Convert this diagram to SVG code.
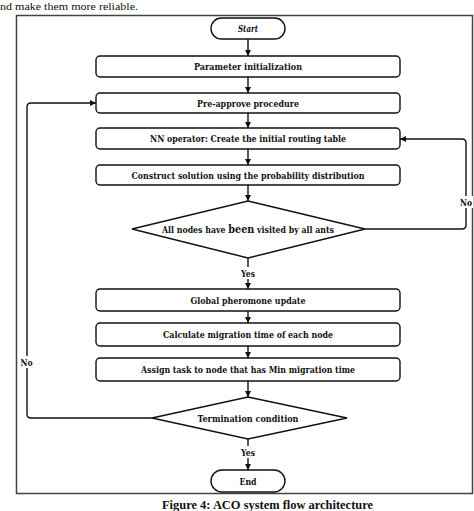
<svg xmlns="http://www.w3.org/2000/svg" width="474" height="511" viewBox="0 0 474 511">
<defs>
<marker id="ah" viewBox="0 0 10 10" refX="10" refY="5" markerWidth="6" markerHeight="6" markerUnits="userSpaceOnUse" orient="auto">
<path d="M0,0 L10,5 L0,10 z" fill="#111"/>
</marker>
</defs>
<style>
.box{fill:#fff;stroke:#111;stroke-width:1.4}
.t{font-family:"DejaVu Serif Condensed","DejaVu Serif",serif;font-weight:bold;font-size:8.5px;fill:#111;text-anchor:middle}
.c{fill:none;stroke:#111;stroke-width:1.4}
.lbl{font-family:"DejaVu Serif Condensed","DejaVu Serif",serif;font-weight:bold;font-size:8.5px;fill:#111;text-anchor:middle}
</style>
<rect width="474" height="511" fill="#fff"/>
<text x="0" y="9.5" font-family="Liberation Serif,Times New Roman,serif" font-size="11" fill="#111" textLength="138" lengthAdjust="spacingAndGlyphs">nd make them more reliable.</text>
<rect x="16.5" y="15.5" width="456" height="478" fill="none" stroke="#444" stroke-width="1.5"/>

<g id="connectors">
<line class="c" x1="248" y1="39" x2="248" y2="56" marker-end="url(#ah)"/>
<line class="c" x1="248" y1="77" x2="248" y2="93" marker-end="url(#ah)"/>
<line class="c" x1="248" y1="113" x2="248" y2="128" marker-end="url(#ah)"/>
<line class="c" x1="248" y1="149" x2="248" y2="165" marker-end="url(#ah)"/>
<line class="c" x1="248" y1="185" x2="248" y2="201" marker-end="url(#ah)"/>
<line class="c" x1="248" y1="258" x2="248" y2="289" marker-end="url(#ah)"/>
<line class="c" x1="248" y1="311" x2="248" y2="323" marker-end="url(#ah)"/>
<line class="c" x1="248" y1="346" x2="248" y2="358" marker-end="url(#ah)"/>
<line class="c" x1="248" y1="381" x2="248" y2="397" marker-end="url(#ah)"/>
<line class="c" x1="248" y1="439" x2="248" y2="470" marker-end="url(#ah)"/>
<path class="c" d="M365,229 H462 Q466,229 466,225 V143 Q466,139 462,139 H400" marker-end="url(#ah)"/>
<path class="c" d="M152,418 H31 Q27,418 27,414 V107 Q27,103 31,103 H96" marker-end="url(#ah)"/>
<rect x="238" y="267" width="20" height="12" fill="#fff"/>
<text class="lbl" x="248" y="277">Yes</text>
<rect x="238" y="446" width="20" height="12" fill="#fff"/>
<text class="lbl" x="248" y="456">Yes</text>
<rect x="458" y="196" width="15" height="12" fill="#fff"/>
<text class="lbl" x="466" y="205.5">No</text>
<rect x="19" y="356" width="15" height="12" fill="#fff"/>
<text class="lbl" x="26.5" y="365.5">No</text>
</g>

<g id="start">
<rect class="box" x="211" y="18" width="74" height="21" rx="10.5"/>
<text class="t" x="248" y="32" font-style="italic" textLength="20" lengthAdjust="spacingAndGlyphs">Start</text>
</g>
<g id="param">
<rect class="box" x="96" y="56" width="304" height="21" rx="4"/>
<text class="t" x="248" y="69.5" textLength="108" lengthAdjust="spacingAndGlyphs">Parameter initialization</text>
</g>
<g id="preapprove">
<rect class="box" x="96" y="93" width="304" height="20" rx="4"/>
<text class="t" x="248" y="106.5" textLength="102" lengthAdjust="spacingAndGlyphs">Pre-approve procedure</text>
</g>
<g id="nn">
<rect class="box" x="96" y="128" width="304" height="21" rx="4"/>
<text class="t" x="248" y="142" textLength="196" lengthAdjust="spacingAndGlyphs">NN operator: Create the initial routing table</text>
</g>
<g id="construct">
<rect class="box" x="96" y="165" width="304" height="20" rx="4"/>
<text class="t" x="248" y="178.5" textLength="233" lengthAdjust="spacingAndGlyphs">Construct solution using the probability distribution</text>
</g>
<g id="decision1">
<polygon class="box" points="248,201 365,229 248,258 132,229"/>
<text class="t" x="248" y="232.5" textLength="172" lengthAdjust="spacingAndGlyphs">All nodes have <tspan font-size="10.5">been</tspan> visited by all ants</text>
</g>
<g id="global">
<rect class="box" x="96" y="289" width="304" height="22" rx="4"/>
<text class="t" x="248" y="303.5" textLength="115" lengthAdjust="spacingAndGlyphs">Global pheromone update</text>
</g>
<g id="calc">
<rect class="box" x="96" y="323" width="304" height="23" rx="4"/>
<text class="t" x="248" y="338" textLength="170" lengthAdjust="spacingAndGlyphs">Calculate migration time of each node</text>
</g>
<g id="assign">
<rect class="box" x="96" y="358" width="304" height="23" rx="4"/>
<text class="t" x="248" y="373" textLength="214" lengthAdjust="spacingAndGlyphs">Assign task to node that has Min migration time</text>
</g>
<g id="decision2">
<polygon class="box" points="248,397 347,418 248,439 152,418"/>
<text class="t" x="248" y="421.5" textLength="101" lengthAdjust="spacingAndGlyphs">Termination condition</text>
</g>
<g id="end">
<rect class="box" x="211" y="470" width="74" height="22" rx="11"/>
<text class="t" x="248" y="484.5" textLength="17" lengthAdjust="spacingAndGlyphs">End</text>
</g>
<text x="267.5" y="509" font-family="Liberation Serif,Times New Roman,serif" font-weight="bold" font-size="13" fill="#111" text-anchor="middle" textLength="211" lengthAdjust="spacingAndGlyphs">Figure 4: ACO system flow architecture</text>
</svg>
